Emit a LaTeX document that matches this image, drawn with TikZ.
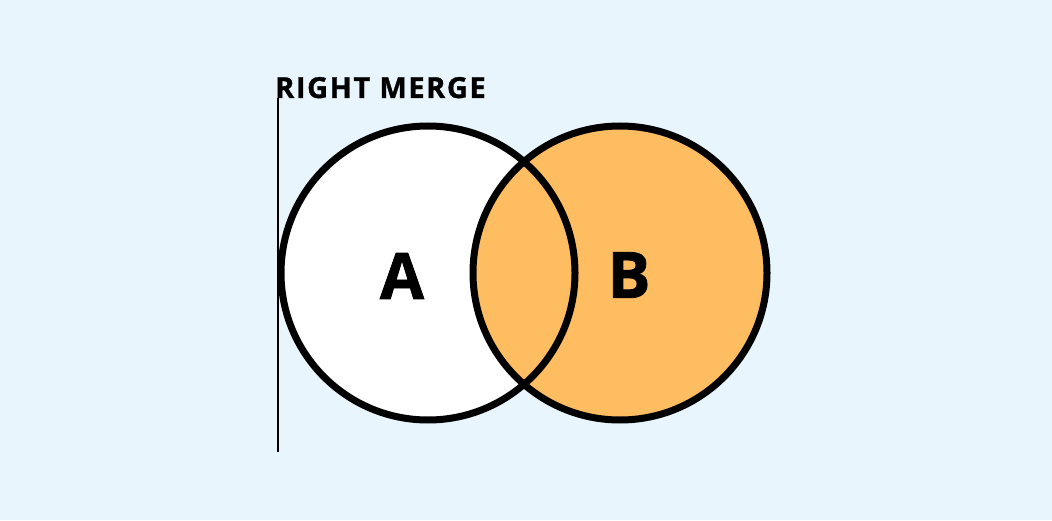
\documentclass[tikz,border=0pt]{standalone}
\usepackage{fontspec}
\setmainfont{Open Sans}
\newfontfamily\heavyfont[FakeBold=1.2]{Open Sans Bold}
\newfontfamily\titlefont[FakeBold=1.0, LetterSpace=5.5]{Open Sans Bold}
\usepackage{tikz}
\usetikzlibrary{positioning}
\definecolor{skyback}{HTML}{E8F5FD}
\definecolor{mergeorange}{HTML}{FFBD62}
\tikzset{
  setring/.style={line width=7pt, draw=black},
  setlabel/.style={font=\fontsize{64}{64}\heavyfont, inner sep=0pt},
}

\begin{document}
\begin{tikzpicture}[x=1pt, y=1pt]
\fill[skyback] (0,0) rectangle (1052,520);
\useasboundingbox (0,0) rectangle (1052,520);
\coordinate (cA) at (428,247);
\coordinate (cB) at (620,247);
\coordinate (top) at (278,422);
\coordinate (bot) at (278,68);
% sets
\fill[white] (cA) circle (147);
\fill[mergeorange] (cB) circle (147);
\draw[setring] (cA) circle (147);
\draw[setring] (cB) circle (147);
\node[setlabel] (lA) at (402,244) {A};
\node[setlabel] (lB) at (629,245) {B};
% title
\node[font=\fontsize{29}{29}\titlefont, inner sep=0pt, anchor=base west] (title) at (275,422) {RIGHT MERGE};
\draw[line width=2pt] (top) -- (bot);
    \end{tikzpicture}
\end{document}
